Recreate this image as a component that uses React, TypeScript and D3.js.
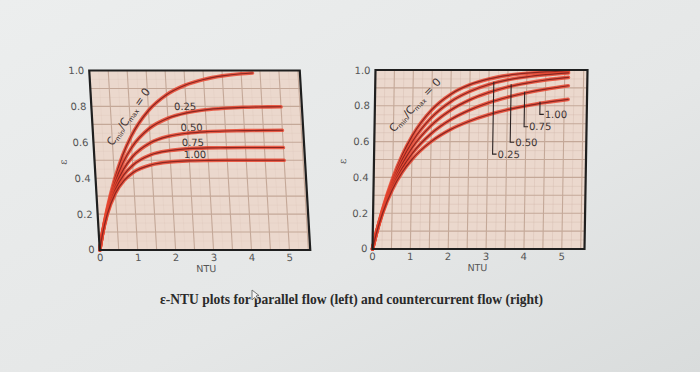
import React from 'react';
import * as d3 from 'd3';

// ---------- data ----------
const xTicks = [0, 1, 2, 3, 4, 5];
const yTicks = [0, 0.2, 0.4, 0.6, 0.8, 1.0];
const yTickLabels = ['0', '0.2', '0.4', '0.6', '0.8', '1.0'];

// Parallel flow (left)
const parNTU = [0, 0.1, 0.25, 0.5, 0.75, 1, 1.5, 2, 2.5, 3, 3.5, 4, 4.5, 5];
const parNTU0 = [0, 0.1, 0.25, 0.5, 0.75, 1, 1.5, 2, 2.5, 3, 3.5, 4, 4.3];
const parC0 = [0, 0.095, 0.221, 0.393, 0.528, 0.632, 0.777, 0.865, 0.918, 0.95, 0.97, 0.982, 0.986];
const parC025 = [0, 0.094, 0.214, 0.371, 0.487, 0.571, 0.678, 0.734, 0.764, 0.781, 0.79, 0.795, 0.797, 0.798];
const parC050 = [0, 0.093, 0.209, 0.351, 0.449, 0.518, 0.597, 0.634, 0.651, 0.659, 0.663, 0.665, 0.666, 0.667];
const parC075 = [0, 0.092, 0.204, 0.335, 0.418, 0.472, 0.531, 0.554, 0.565, 0.569, 0.57, 0.571, 0.571, 0.571];
const parC100 = [0, 0.091, 0.197, 0.316, 0.388, 0.432, 0.475, 0.491, 0.497, 0.499, 0.5, 0.5, 0.5, 0.5];
const parLabels = ['0.25', '0.50', '0.75', '1.00'];
const parLabelPos = [[2.47, 0.798], [2.61, 0.684], [2.62, 0.599], [2.66, 0.532]];

// Countercurrent flow (right)
const cntNTU = [0, 0.1, 0.25, 0.5, 0.75, 1, 1.5, 2, 2.5, 3, 3.5, 4, 4.5, 5.1];
const cntC0 = [0, 0.095, 0.221, 0.393, 0.528, 0.632, 0.777, 0.865, 0.918, 0.95, 0.97, 0.982, 0.989, 0.994];
const cntC025 = [0, 0.094, 0.216, 0.378, 0.501, 0.598, 0.735, 0.823, 0.88, 0.919, 0.945, 0.962, 0.974, 0.984];
const cntC050 = [0, 0.093, 0.21, 0.362, 0.476, 0.565, 0.691, 0.775, 0.833, 0.874, 0.905, 0.927, 0.944, 0.959];
const cntC075 = [0, 0.092, 0.205, 0.348, 0.452, 0.532, 0.645, 0.722, 0.776, 0.817, 0.848, 0.873, 0.893, 0.912];
const cntC100 = [0, 0.091, 0.2, 0.333, 0.429, 0.5, 0.6, 0.667, 0.714, 0.75, 0.778, 0.8, 0.818, 0.836];
const cntLabels = ['0.25', '0.50', '0.75', '1.00'];
const cntLeaderX = [3.13, 3.59, 3.95, 4.36];
const cntLeaderTop = [0.935, 0.92, 0.879, 0.823];
const cntLeaderBottom = [0.53, 0.596, 0.683, 0.752];

const caption = 'ε-NTU plots for parallel flow (left) and countercurrent flow (right)';

// ---------- drawing ----------
type Series = { ntu: number[]; eps: number[] };

function Curves({ series, x, y }: { series: Series[]; x: any; y: any }) {
  const line = d3
    .line<[number, number]>()
    .x((d) => x(d[0]))
    .y((d) => y(d[1]))
    .curve(d3.curveMonotoneX);
  return (
    <g>
      {series.map((s, i) => {
        const pts = s.ntu.map((n, k) => [n, s.eps[k]] as [number, number]);
        const d = line(pts) || '';
        return (
          <g key={i}>
            <path d={d} fill="none" stroke="#e8452f" strokeWidth={3.6} strokeOpacity={0.85} strokeLinecap="round" />
            <path d={d} fill="none" stroke="#8c2620" strokeWidth={1.2} strokeLinecap="round" />
          </g>
        );
      })}
    </g>
  );
}

function CLabel({ x, y, rot }: { x: number; y: number; rot: number }) {
  return (
    <text
      transform={`translate(${x},${y}) rotate(${rot})`}
      textAnchor="middle"
      fontFamily="DejaVu Sans, sans-serif"
      fontSize={11}
      fill="#3a3030"
    >
      <tspan>C</tspan>
      <tspan fontSize={6.5} dy={2}>min</tspan>
      <tspan dy={-2}>/C</tspan>
      <tspan fontSize={6.5} dy={2}>max</tspan>
      <tspan dy={-2}> = 0</tspan>
    </text>
  );
}

function Panel({
  ox, oy, w, h, tan, xMax, series, children, labelsBehind, minorOpacity,
}: {
  ox: number; oy: number; w: number; h: number; tan: number; xMax: number;
  series: Series[]; children?: (x: any, y: any) => React.ReactNode; labelsBehind?: boolean; minorOpacity: number;
}) {
  const x = d3.scaleLinear().domain([0, xMax]).range([0, w]);
  const y = d3.scaleLinear().domain([0, 1]).range([h, 0]);
  const majorX = d3.range(0, xMax, 0.5);
  const minorX = d3.range(0.25, xMax, 0.5);
  const majorY = d3.range(0, 1.0001, 0.1);
  const minorY = d3.range(0.05, 1, 0.1);
  const k = Math.atan(tan) * 180 / Math.PI;
  return (
    <g transform={`translate(${ox},${oy}) skewX(${k})`}>
      <rect x={0} y={0} width={w} height={h} fill="#ebd8cd" />
      {minorX.map((v) => (
        <line key={'mx' + v} x1={x(v)} x2={x(v)} y1={0} y2={h} stroke="#cdb4a6" strokeWidth={0.6} strokeOpacity={minorOpacity} />
      ))}
      {minorY.map((v) => (
        <line key={'my' + v} x1={0} x2={w} y1={y(v)} y2={y(v)} stroke="#cdb4a6" strokeWidth={0.6} strokeOpacity={minorOpacity} />
      ))}
      {majorX.map((v) => (
        <line key={'x' + v} x1={x(v)} x2={x(v)} y1={0} y2={h} stroke="#c4a898" strokeWidth={1.1} />
      ))}
      {majorY.map((v) => (
        <line key={'y' + v} x1={0} x2={w} y1={y(v)} y2={y(v)} stroke="#c4a898" strokeWidth={1.1} />
      ))}
      {labelsBehind && children ? children(x, y) : null}
      <Curves series={series} x={x} y={y} />
      {!labelsBehind && children ? children(x, y) : null}
      <rect x={0} y={0} width={w} height={h} fill="none" stroke="#1f1f1f" strokeWidth={2.2} />
      {yTicks.map((v, i) => (
        <text key={'yt' + v} x={-5} y={y(v)} dy="0.35em" textAnchor="end" fontFamily="DejaVu Sans, sans-serif" fontSize={10} fill="#555">
          {yTickLabels[i]}
        </text>
      ))}
      {xTicks.map((v) => (
        <text key={'xt' + v} x={x(v)} y={h + 11} textAnchor="middle" fontFamily="DejaVu Sans, sans-serif" fontSize={10} fill="#555">
          {v}
        </text>
      ))}
      <text x={x(2.78)} y={h + 22} textAnchor="middle" fontFamily="DejaVu Sans, sans-serif" fontSize={9.5} fill="#555">NTU</text>
      <text transform={`translate(${-28},${y(0.49)}) rotate(-90)`} textAnchor="middle" fontFamily="DejaVu Serif, serif" fontSize={10} fill="#555">ε</text>
    </g>
  );
}

export default function App() {
  const parSeries: Series[] = [
    { ntu: parNTU0, eps: parC0 },
    { ntu: parNTU, eps: parC025 },
    { ntu: parNTU, eps: parC050 },
    { ntu: parNTU, eps: parC075 },
    { ntu: parNTU, eps: parC100 },
  ];
  const cntSeries: Series[] = [
    { ntu: cntNTU, eps: cntC0 },
    { ntu: cntNTU, eps: cntC025 },
    { ntu: cntNTU, eps: cntC050 },
    { ntu: cntNTU, eps: cntC075 },
    { ntu: cntNTU, eps: cntC100 },
  ];
  return (
    <svg width={700} height={372} style={{ position: 'fixed', left: 0, top: 0 }}>
      <defs>
        <linearGradient id="bg" x1="0" y1="0" x2="1" y2="1">
          <stop offset="0" stopColor="#eceeee" />
          <stop offset="0.6" stopColor="#e5e7e7" />
          <stop offset="1" stopColor="#d9dcdc" />
        </linearGradient>
      </defs>
      <rect x={0} y={0} width={700} height={372} fill="url(#bg)" />
      <Panel ox={89.25} oy={70.5} w={210.5} h={179.5} tan={10.5 / 179.5} xMax={5.55} series={parSeries} labelsBehind minorOpacity={0.25}>
        {(x, y) => (
          <g>
            {parLabels.map((t, i) => (
              <text key={t} x={x(parLabelPos[i][0])} y={y(parLabelPos[i][1])} dy="0.35em" textAnchor="middle"
                fontFamily="DejaVu Sans, sans-serif" fontSize={10} fill="#3d3535">{t}</text>
            ))}
            <CLabel x={x(1.04)} y={y(0.73)} rot={-53} />
          </g>
        )}
      </Panel>
      <Panel ox={375.5} oy={70} w={212} h={179} tan={-3 / 179} xMax={5.6} series={cntSeries} minorOpacity={0.55}>
        {(x, y) => (
          <g>
            {cntLabels.map((t, i) => (
              <g key={t}>
                <polyline
                  points={`${x(cntLeaderX[i])},${y(cntLeaderTop[i])} ${x(cntLeaderX[i])},${y(cntLeaderBottom[i])} ${x(cntLeaderX[i]) + 4},${y(cntLeaderBottom[i])}`}
                  fill="none" stroke="#2a2222" strokeWidth={1.1} />
                <text x={x(cntLeaderX[i]) + 5} y={y(cntLeaderBottom[i])} dy="0.35em"
                  fontFamily="DejaVu Sans, sans-serif" fontSize={10} fill="#3d3535">{t}</text>
              </g>
            ))}
            <CLabel x={x(1.13)} y={y(0.79)} rot={-47} />
          </g>
        )}
      </Panel>
      <text x={160} y={304} textLength={383} lengthAdjust="spacingAndGlyphs"
        fontFamily="Liberation Serif, serif" fontWeight="bold" fontSize={14} fill="#2a2a2a">{caption}</text>
      <path d="M252,290 L252,300 L254.5,297.5 L257,299.5 L258,298.5 L256,296 L259,295.5 Z" fill="#f4f4f4" stroke="#666" strokeWidth={0.9} />
    </svg>
  );
}
